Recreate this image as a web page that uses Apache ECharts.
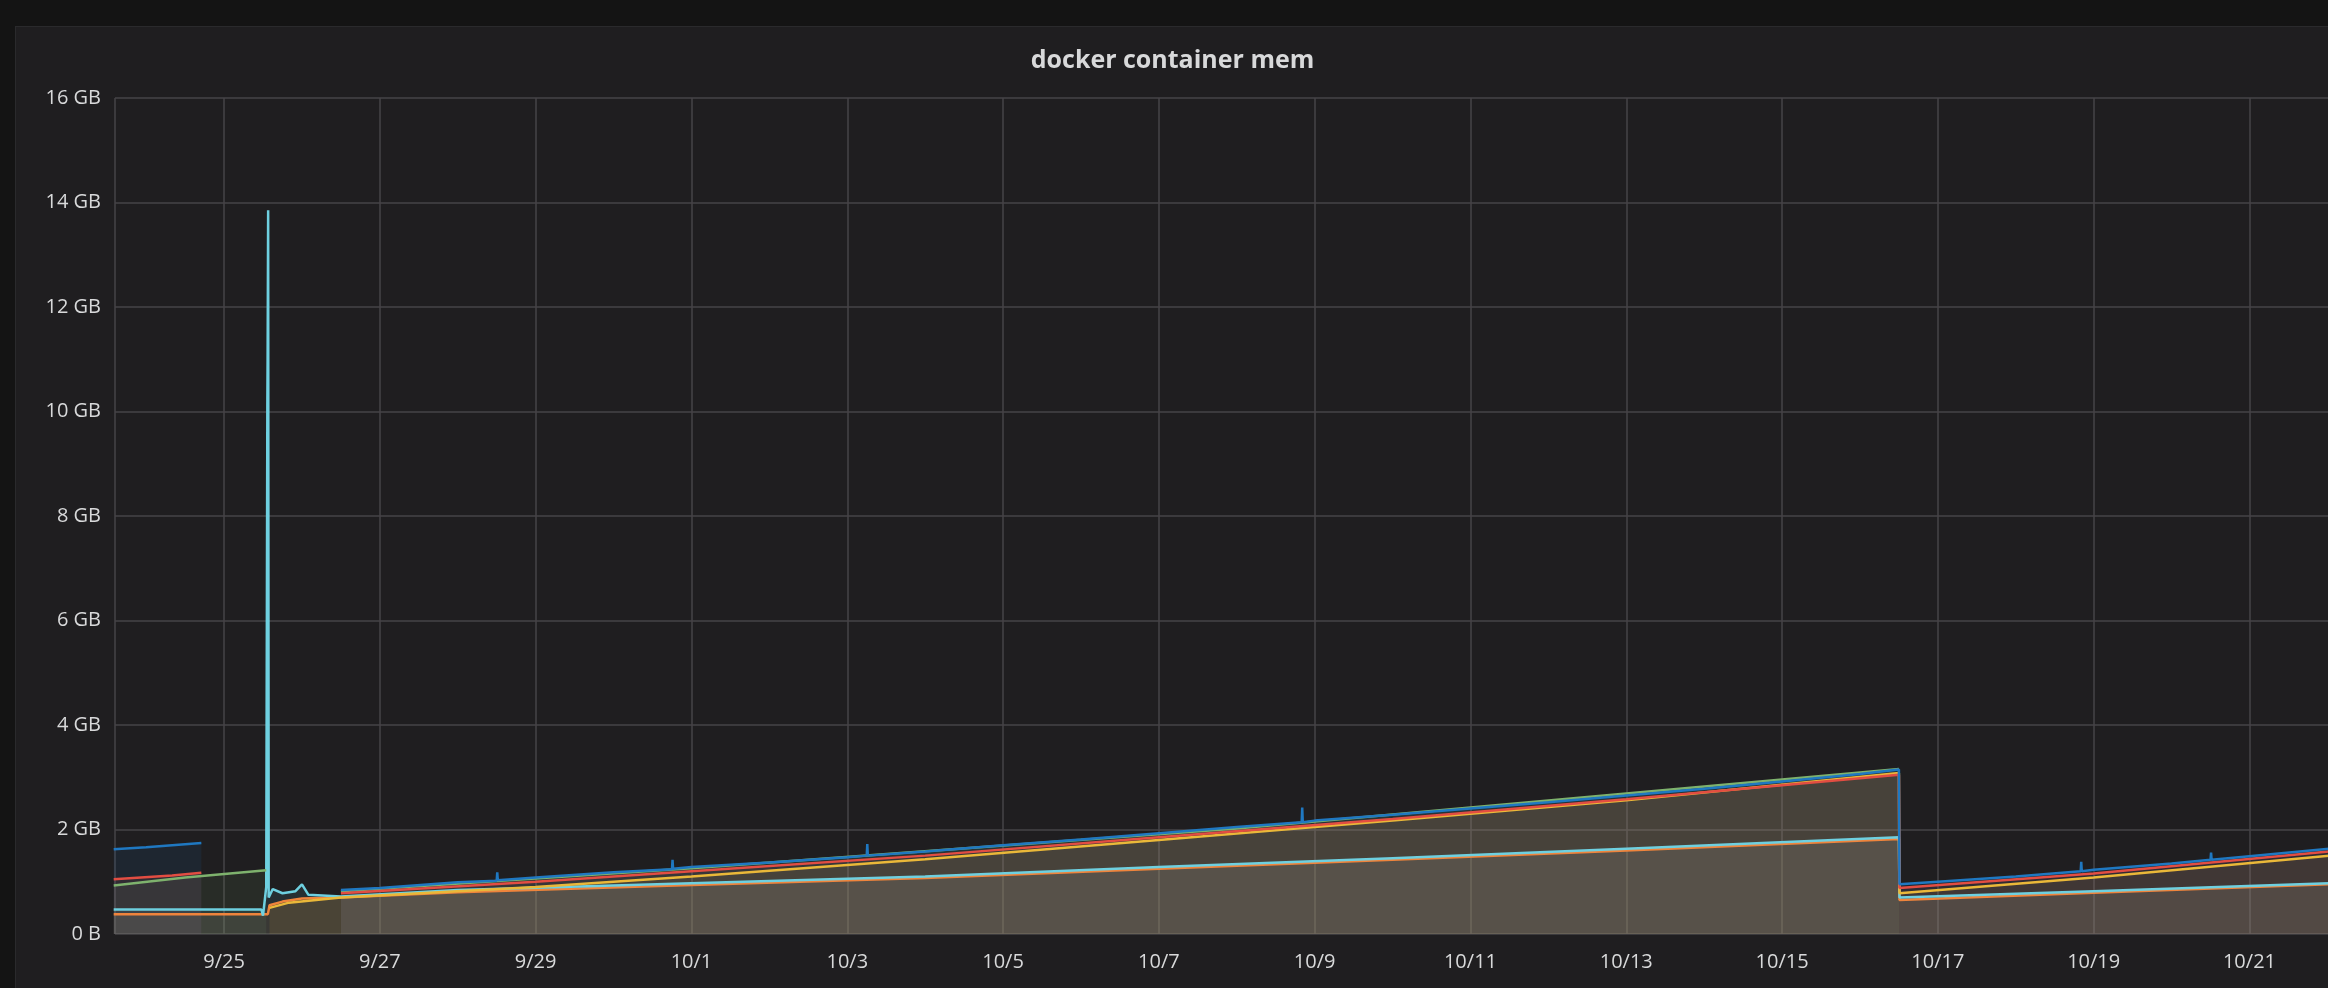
<!DOCTYPE html>
<html><head><meta charset="utf-8">
<script src="https://cdn.jsdelivr.net/npm/echarts@6/dist/echarts.min.js"></script>
<style>
html,body{margin:0;padding:0;background:#141414;width:2328px;height:988px;overflow:hidden}
#c{position:absolute;left:15px;top:26px;width:2313px;height:962px;background:#1f1e20;border-top:1px solid #2a2a2c;border-left:1px solid #2a2a2c}
</style></head><body><div id="c"></div>
<script>
const title = 'docker container mem';
const yTicks = [0,2,4,6,8,10,12,14,16];
const blue = [['2017-09-23 14:00',1.62],['2017-09-24 00:00',1.66],['2017-09-24 08:00',1.70],['2017-09-24 17:00',1.74],['2017-09-24 17:10',null],
 ['2017-09-26 12:00',0.84],['2017-09-27 00:00',0.88],['2017-09-28 00:00',0.99],['2017-09-28 12:00',1.02],['2017-09-28 12:10',1.18],['2017-09-28 12:20',1.03],['2017-09-29 00:00',1.08],['2017-09-30 00:00',1.18],['2017-09-30 18:00',1.24],['2017-09-30 18:10',1.42],['2017-09-30 18:20',1.25],['2017-10-01 00:00',1.28],['2017-10-02 00:00',1.37],['2017-10-03 00:00',1.47],['2017-10-03 06:00',1.5],['2017-10-03 06:10',1.72],['2017-10-03 06:20',1.5],['2017-10-04 00:00',1.58],
 ['2017-10-05 00:00',1.70],['2017-10-06 00:00',1.81],['2017-10-07 00:00',1.93],['2017-10-08 00:00',2.05],['2017-10-08 20:00',2.14],['2017-10-08 20:10',2.42],['2017-10-08 20:20',2.14],['2017-10-09 00:00',2.17],['2017-10-10 00:00',2.28],['2017-10-11 00:00',2.40],['2017-10-12 00:00',2.52],['2017-10-13 00:00',2.65],['2017-10-14 00:00',2.78],['2017-10-15 00:00',2.92],['2017-10-16 00:00',3.06],['2017-10-16 12:00',3.15],
 ['2017-10-16 12:10',0.95],['2017-10-17 00:00',1.0],['2017-10-18 00:00',1.1],['2017-10-18 20:00',1.2],['2017-10-18 20:10',1.38],['2017-10-18 20:20',1.2],['2017-10-19 00:00',1.23],['2017-10-20 00:00',1.35],['2017-10-20 12:00',1.42],['2017-10-20 12:10',1.56],['2017-10-20 12:20',1.42],['2017-10-21 00:00',1.49],['2017-10-22 00:30',1.63]];
const red = [['2017-09-23 14:00',1.05],['2017-09-24 08:00',1.12],['2017-09-24 17:00',1.17],['2017-09-24 17:10',null],
 ['2017-09-26 12:00',0.78],['2017-09-29 00:00',1.0],['2017-10-01 00:00',1.2],['2017-10-04 00:00',1.5],['2017-10-07 00:00',1.85],['2017-10-10 00:00',2.2],['2017-10-13 00:00',2.58],['2017-10-16 12:00',3.05],
 ['2017-10-16 12:10',0.88],['2017-10-19 00:00',1.16],['2017-10-22 00:30',1.58]];
const green = [['2017-09-23 14:00',0.93],['2017-09-24 12:00',1.08],['2017-09-25 13:00',1.22],['2017-09-25 13:10',null],
 ['2017-09-26 12:00',0.82],['2017-10-01 00:00',1.26],['2017-10-08 00:00',2.02],['2017-10-16 12:00',3.16],['2017-10-16 12:10',null]];
const yellow = [['2017-09-25 14:00',0.5],['2017-09-25 20:00',0.6],['2017-09-26 12:00',0.7],['2017-09-29 00:00',0.9],['2017-10-01 00:00',1.1],['2017-10-04 00:00',1.43],['2017-10-07 00:00',1.8],['2017-10-10 00:00',2.17],['2017-10-13 00:00',2.56],['2017-10-16 12:00',3.08],
 ['2017-10-16 12:10',0.78],['2017-10-19 00:00',1.08],['2017-10-22 00:30',1.5]];
const cyan = [['2017-09-23 14:00',0.47],['2017-09-25 11:30',0.47],['2017-09-25 12:00',0.35],['2017-09-25 13:00',0.9],['2017-09-25 13:20',10.1],['2017-09-25 13:25',11.0],['2017-09-25 13:35',13.85],['2017-09-25 13:45',0.7],['2017-09-25 15:00',0.86],['2017-09-25 18:00',0.78],['2017-09-25 22:00',0.82],['2017-09-26 00:00',0.95],['2017-09-26 02:00',0.75],['2017-09-26 12:00',0.72],
 ['2017-09-28 00:00',0.84],['2017-10-01 00:00',0.97],['2017-10-04 00:00',1.1],['2017-10-07 00:00',1.28],['2017-10-10 00:00',1.45],['2017-10-13 00:00',1.63],['2017-10-16 12:00',1.85],
 ['2017-10-16 12:10',0.7],['2017-10-19 00:00',0.82],['2017-10-22 00:30',0.97]];
const orange = [['2017-09-23 14:00',0.38],['2017-09-25 13:30',0.38],['2017-09-25 14:00',0.55],['2017-09-25 18:00',0.62],['2017-09-26 00:00',0.68],['2017-09-26 12:00',0.7],
 ['2017-09-28 00:00',0.8],['2017-10-01 00:00',0.94],['2017-10-04 00:00',1.07],['2017-10-07 00:00',1.25],['2017-10-10 00:00',1.42],['2017-10-13 00:00',1.6],['2017-10-16 12:00',1.82],
 ['2017-10-16 12:10',0.65],['2017-10-19 00:00',0.79],['2017-10-22 00:30',0.95]];

const defs = [['orange',orange,'#EF843C'],['cyan',cyan,'#6ED0E0'],['green',green,'#7EB26D'],['yellow',yellow,'#EAB839'],['red',red,'#E24D42'],['blue',blue,'#1F78C1']];
const chart = echarts.init(document.getElementById('c'));
chart.setOption({
  animation:false,
  title:{text:title,left:'center',top:16,textStyle:{color:'#d8d9da',fontSize:25,fontWeight:'bold',fontFamily:'Open Sans'}},
  grid:{left:99,right:0,top:71,bottom:55},
  xAxis:{type:'time',min:'2017-09-23 14:24',max:'2017-10-22 00:30',minInterval:2*86400000,maxInterval:2*86400000,
    axisLine:{show:false},axisTick:{show:false},
    axisLabel:{color:'#d8d9da',fontSize:20,fontFamily:'Open Sans',margin:18,formatter:v=>{const d=new Date(v);return (d.getMonth()+1)+'/'+d.getDate();}},
    splitLine:{show:true,lineStyle:{color:'#464547',width:1.5}}},
  yAxis:{type:'value',min:0,max:16,interval:2,
    axisLine:{show:false},axisTick:{show:false},
    axisLabel:{color:'#d8d9da',fontSize:20,fontFamily:'Open Sans',margin:14,formatter:v=>v===0?'0 B':v+' GB'},
    splitLine:{lineStyle:{color:'#464547',width:1.5}}},
  series:defs.map(([n,d,c])=>({name:n,type:'line',data:d,showSymbol:false,connectNulls:false,
    lineStyle:{color:c,width:2.5},itemStyle:{color:c},areaStyle:{color:c,opacity:0.1}}))
});
</script></body></html>
